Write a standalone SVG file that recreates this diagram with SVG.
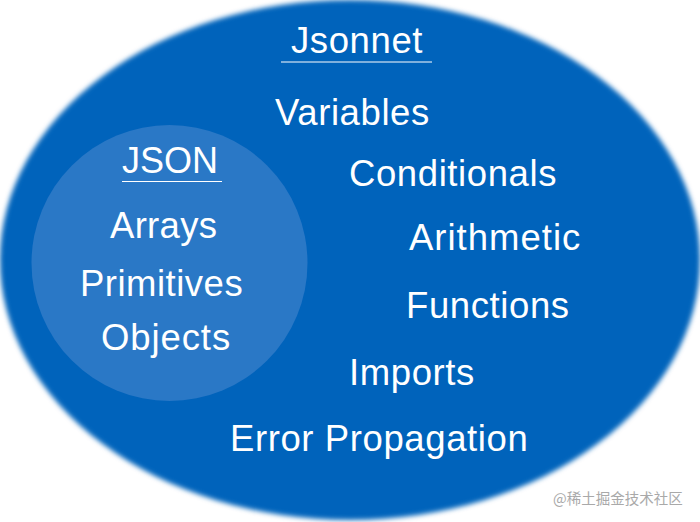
<svg xmlns="http://www.w3.org/2000/svg" width="700" height="522" viewBox="0 0 700 522">
<defs>
<filter id="soft" x="-5%" y="-5%" width="110%" height="110%"><feGaussianBlur stdDeviation="2.500"/></filter>
</defs>
<style>
text{font-family:"Liberation Sans",Arial,sans-serif;fill:#fff;font-size:36.500px;letter-spacing:.6px}
.wm{font-family:"Noto Sans CJK SC","Liberation Sans",sans-serif;fill:#a9a9a9;font-size:14.5px;letter-spacing:0}
line{stroke:#fff;stroke-width:1}
</style>
<rect width="700" height="522" fill="#fff"/>
<ellipse cx="350" cy="260" rx="350" ry="260" fill="#0463bb" filter="url(#soft)"/>
<circle cx="169.500" cy="263" r="138" fill="#2a78c6"/>
<g id="jsonnet"><text x="291" y="53">Jsonnet</text><line x1="281" y1="62" x2="432" y2="62"/></g>
<g id="json"><text x="122" y="172.500" style="font-size:36px;letter-spacing:0">JSON</text><line x1="122" y1="181.500" x2="222" y2="181.500"/></g>
<g id="variables"><text x="275" y="125">Variables</text></g>
<g id="conditionals"><text x="349" y="186">Conditionals</text></g>
<g id="arithmetic"><text x="409" y="250" style="letter-spacing:1px">Arithmetic</text></g>
<g id="functions"><text x="406" y="318">Functions</text></g>
<g id="imports"><text x="349" y="385">Imports</text></g>
<g id="error"><text x="230" y="451">Error Propagation</text></g>
<g id="arrays"><text x="110" y="238" style="letter-spacing:.3px">Arrays</text></g>
<g id="primitives"><text x="80" y="296" style="letter-spacing:.5px">Primitives</text></g>
<g id="objects"><text x="101" y="350" style="letter-spacing:.9px">Objects</text></g>
<text class="wm" x="553" y="504">@稀土掘金技术社区</text>
</svg>
